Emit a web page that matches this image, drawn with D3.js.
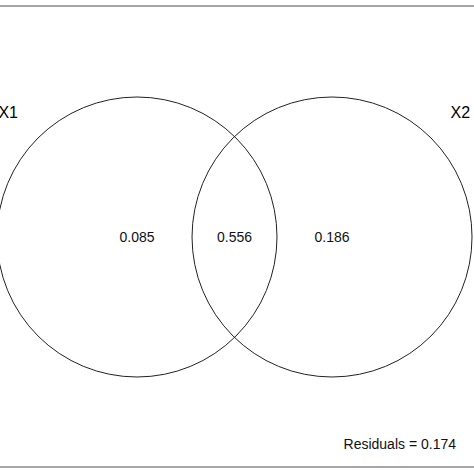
<!DOCTYPE html>
<html><head><meta charset="utf-8">
<script src="https://cdn.jsdelivr.net/npm/d3@7"></script>
<style>body{margin:0;background:#fff}svg{display:block}</style>
</head><body>
<script>
var sets = ["X1", "X2"];
var fractions = ["0.085", "0.556", "0.186"];
var residual = "0.174";

var W = 474, H = 474;
var svg = d3.select("body").append("svg").attr("width", W).attr("height", H);

// plot coordinates like vegan's showvarparts, roughly
var x = d3.scaleLinear().domain([-1, 2.4]).range([-3, 473]);
var y = d3.scaleLinear().domain([-1, 1]).range([377, 97]);
var r = x(1) - x(0);
var centers = [0, 1.393];

svg.append("line").attr("x1", 0).attr("x2", W).attr("y1", 6).attr("y2", 6)
  .attr("stroke", "#888").attr("stroke-width", 1.5);
svg.append("line").attr("x1", 0).attr("x2", W).attr("y1", 467).attr("y2", 467)
  .attr("stroke", "#888").attr("stroke-width", 1.5);

svg.selectAll("circle.set").data(centers).enter().append("circle")
  .attr("class", "set")
  .attr("cx", function(d){ return x(d); })
  .attr("cy", y(0))
  .attr("r", r)
  .attr("fill", "none").attr("stroke", "#222").attr("stroke-width", 1);

var labelPos = [[-0.99, 0.85, "start"], [2.38, 0.85, "end"]];
svg.selectAll("text.set").data(sets).enter().append("text")
  .attr("x", function(d,i){ return x(labelPos[i][0]); })
  .attr("y", function(d,i){ return y(labelPos[i][1]); })
  .attr("text-anchor", function(d,i){ return labelPos[i][2]; })
  .attr("font-family", "Liberation Sans, Arial, sans-serif")
  .attr("font-size", 16).text(function(d){ return d; });

var fracX = [0, 0.6965, 1.393];
svg.selectAll("text.frac").data(fractions).enter().append("text")
  .attr("x", function(d,i){ return x(fracX[i]); })
  .attr("y", y(0)+5)
  .attr("text-anchor", "middle")
  .attr("font-family", "Liberation Sans, Arial, sans-serif")
  .attr("font-size", 14).attr("fill", "#111")
  .text(function(d){ return d; });

svg.append("text").attr("x", 456).attr("y", 449).attr("text-anchor", "end")
  .attr("font-family", "Liberation Sans, Arial, sans-serif")
  .attr("font-size", 14).attr("fill", "#111")
  .text("Residuals = " + residual);
</script>
</body></html>
